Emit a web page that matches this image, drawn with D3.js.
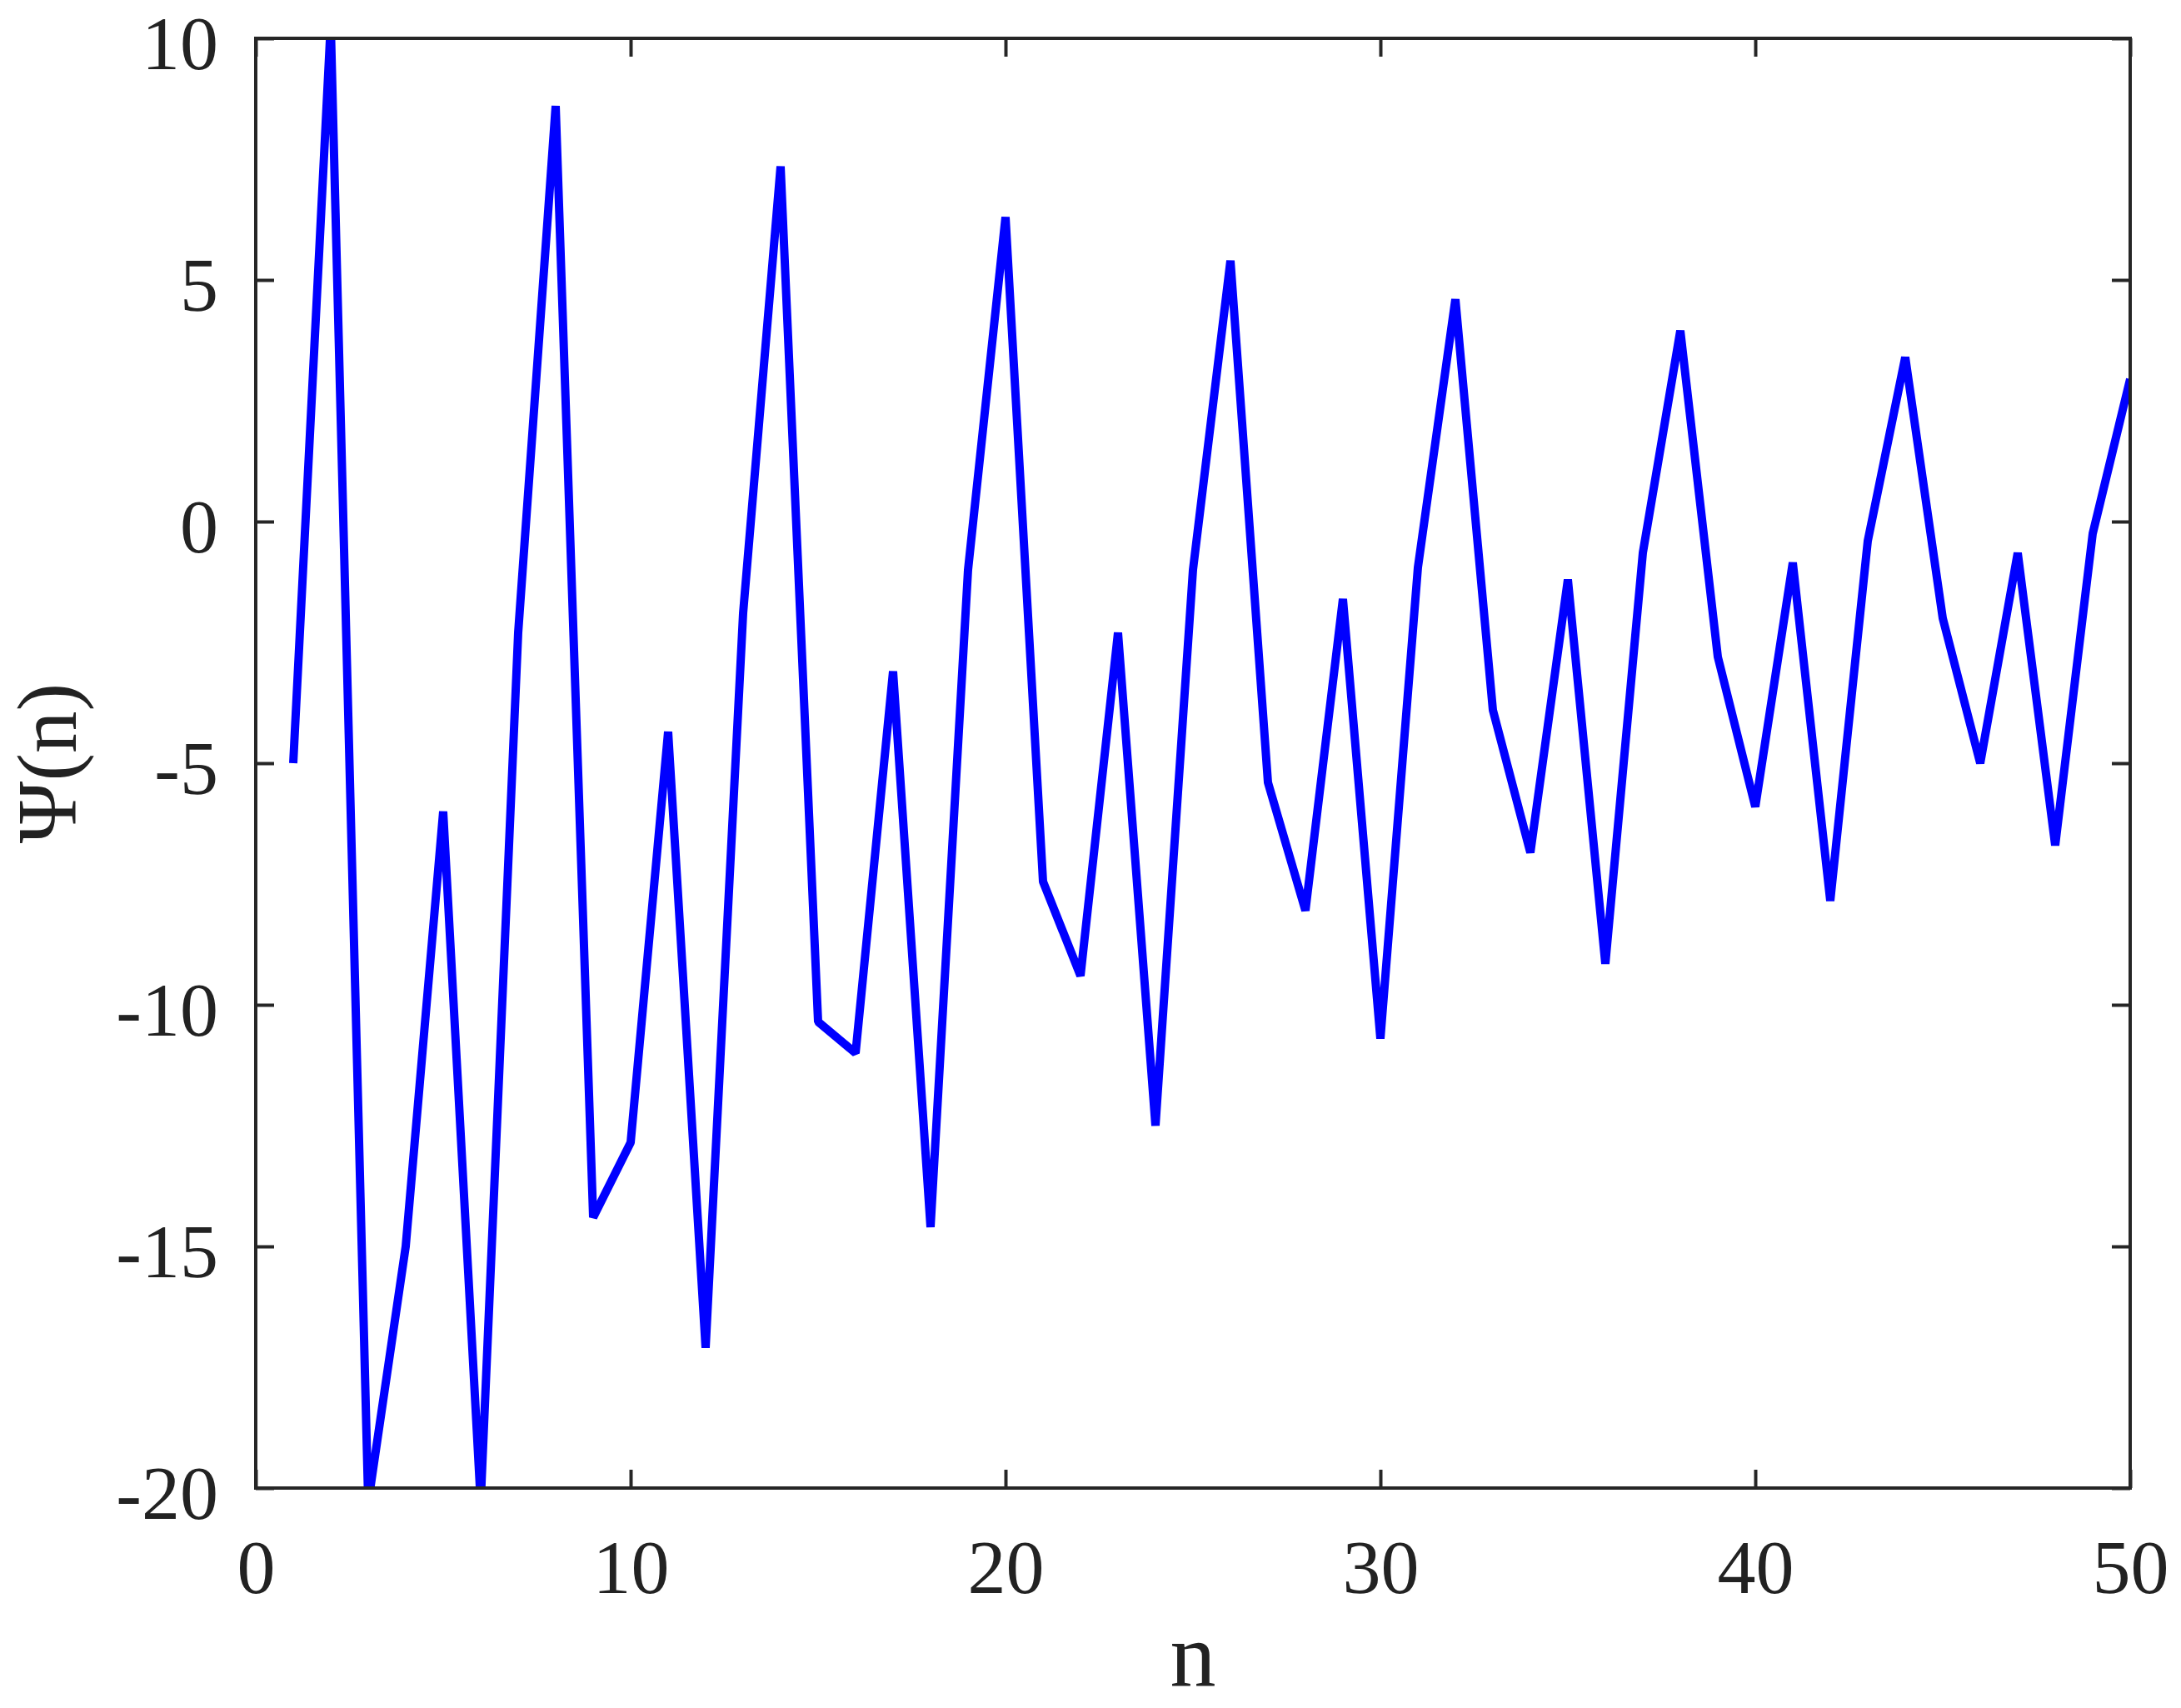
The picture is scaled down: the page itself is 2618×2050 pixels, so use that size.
<!DOCTYPE html>
<html>
<head>
<meta charset="utf-8">
<script src="https://cdn.jsdelivr.net/npm/d3@7"></script>
<style>
  html, body { margin: 0; padding: 0; background: #ffffff; }
  svg { display: block; }
</style>
</head>
<body>
<div id="chart"></div>
<script>
// ---- data ----
const nValues = d3.range(1, 51);
const psiValues = [
  -5.0, 10.3, -20.3, -15.0, -6.0, -20.3, -2.3, 8.6, -14.4, -12.85,
  -4.35, -17.1, -1.9, 7.35, -10.35, -11.0, -3.1, -14.6, -1.0, 6.3,
  -7.45, -9.4, -2.3, -12.5, -1.0, 5.4, -5.4, -8.05, -1.6, -10.7,
  -0.95, 4.6, -3.9, -6.85, -1.2, -9.15, -0.65, 3.95, -2.8, -5.9,
  -0.85, -7.85, -0.4, 3.4, -2.0, -5.0, -0.65, -6.7, -0.25, 2.95
];
const xTicks = [0, 10, 20, 30, 40, 50];
const yTicks = [-20, -15, -10, -5, 0, 5, 10];
const xLabel = "n";
const yLabel = "\u03A8(n)";

// ---- layout ----
const W = 2618, H = 2050;
const plot = { left: 307, right: 2557, top: 46, bottom: 1786 };
const axisColor = "#262626";
const textColor = "#222222";
const font = "'Liberation Serif', 'Times New Roman', serif";
const tickLen = 22;
const fontSize = 92;

const svg = d3.select("#chart").append("svg")
  .attr("width", W).attr("height", H)
  .attr("viewBox", `0 0 ${W} ${H}`);

const x = d3.scaleLinear().domain([0, 50]).range([plot.left, plot.right]);
const y = d3.scaleLinear().domain([-20, 10]).range([plot.bottom, plot.top]);

svg.append("defs").append("clipPath").attr("id", "clip")
  .append("rect")
  .attr("x", plot.left).attr("y", plot.top)
  .attr("width", plot.right - plot.left)
  .attr("height", plot.bottom - plot.top);

// data line
const data = nValues.map((n, i) => ({ n, v: psiValues[i] }));
svg.append("path")
  .datum(data)
  .attr("clip-path", "url(#clip)")
  .attr("fill", "none")
  .attr("stroke", "#0000ff")
  .attr("stroke-width", 10)
  .attr("stroke-linejoin", "bevel")
  .attr("d", d3.line().x(d => x(d.n)).y(d => y(d.v)));

// axes (ticks inward on all sides)
const bottomAxis = d3.axisBottom(x).tickValues(xTicks).tickSizeInner(-tickLen).tickSizeOuter(0).tickFormat(d3.format("d"));
const topAxis = d3.axisTop(x).tickValues(xTicks).tickSizeInner(-tickLen).tickSizeOuter(0).tickFormat("");
const leftAxis = d3.axisLeft(y).tickValues(yTicks).tickSizeInner(-tickLen).tickSizeOuter(0).tickFormat(d => d < 0 ? "-" + Math.abs(d) : String(d));
const rightAxis = d3.axisRight(y).tickValues(yTicks).tickSizeInner(-tickLen).tickSizeOuter(0).tickFormat("");

function styleAxis(g) {
  g.select(".domain").remove();
  g.selectAll(".tick line").attr("stroke", axisColor).attr("stroke-width", 4);
  g.selectAll("text").attr("fill", textColor).style("font-family", font).style("font-size", fontSize + "px");
}

const gb = svg.append("g").attr("transform", `translate(0,${plot.bottom})`).call(bottomAxis).call(styleAxis);
gb.selectAll(".tick text").attr("y", 126).attr("dy", null).attr("text-anchor", "middle");

svg.append("g").attr("transform", `translate(0,${plot.top})`).call(topAxis).call(styleAxis);

const gl = svg.append("g").attr("transform", `translate(${plot.left},0)`).call(leftAxis).call(styleAxis);
gl.selectAll(".tick text").attr("x", -45).attr("dy", null).attr("y", 36).attr("text-anchor", "end");

svg.append("g").attr("transform", `translate(${plot.right},0)`).call(rightAxis).call(styleAxis);

// frame
svg.append("rect")
  .attr("x", plot.left).attr("y", plot.top)
  .attr("width", plot.right - plot.left)
  .attr("height", plot.bottom - plot.top)
  .attr("fill", "none")
  .attr("stroke", axisColor)
  .attr("stroke-width", 4);

// axis labels
svg.append("text")
  .attr("x", (plot.left + plot.right) / 2)
  .attr("y", 2024)
  .attr("text-anchor", "middle")
  .attr("fill", textColor)
  .style("font-family", font)
  .style("font-size", "110px")
  .text(xLabel);

svg.append("text")
  .attr("transform", `translate(91,${(plot.top + plot.bottom) / 2}) rotate(-90)`)
  .attr("text-anchor", "middle")
  .attr("fill", textColor)
  .style("font-family", font)
  .style("font-size", "101px")
  .text(yLabel);
</script>
</body>
</html>
